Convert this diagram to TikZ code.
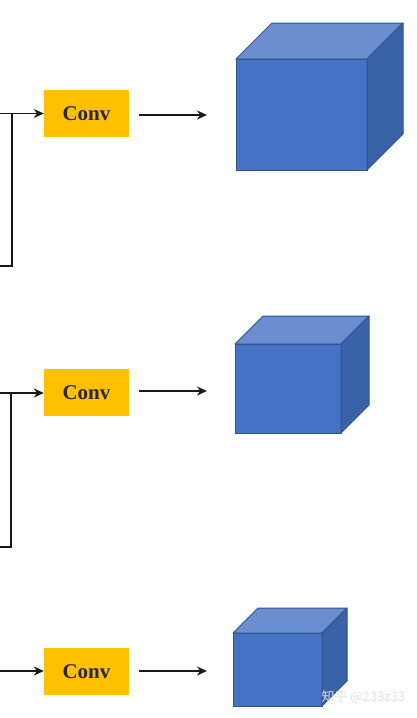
\documentclass[tikz,border=0pt]{standalone}
\usepackage{fontspec}
\setmainfont{Liberation Serif}
\newfontfamily\cjk{Noto Sans CJK SC}
\usetikzlibrary{arrows.meta}
\definecolor{convfill}{HTML}{FFC000}
\definecolor{cubefront}{HTML}{4472C4}
\definecolor{cubetop}{HTML}{6A8ED0}
\definecolor{cubeside}{HTML}{3A62A6}
\definecolor{cubeedge}{HTML}{2F528F}
\newcommand\drawcube[5]{%
  \filldraw[fill=cubefront, draw=cubeedge, line width=1pt] (#1,#2) rectangle ++(#3,#4);
  \filldraw[fill=cubetop, draw=cubeedge, line width=1pt, line join=round] (#1,#2) -- ++(#5,-#5) -- ++(#3,0) -- ++(-#5,#5) -- cycle;
  \filldraw[fill=cubeside, draw=cubeedge, line width=1pt, line join=round] (#1+#3,#2) -- ++(#5,-#5) -- ++(0,#4) -- ++(-#5,#5) -- cycle;
}
\begin{document}
\begin{tikzpicture}[x=1pt,y=-1pt,
  convbox/.style={fill=convfill, minimum width=85pt, minimum height=47pt, inner sep=0pt,
    font=\fontsize{21}{21}\selectfont\bfseries, text=black!85},
  wire/.style={line width=1.8pt, black!90},
  arr/.style={wire, -{Stealth[length=10pt,width=9pt]}},
  wmark/.style={font=\cjk\fontsize{13}{13}\selectfont, text=white!88!black}
]
\useasboundingbox (0,0) rectangle (416,718);

% block 1
\node[convbox] (conv1) at (86.5,113.5) {Conv};
\coordinate (in1) at (0,113.5);
\coordinate (j1) at (12,113.5);
\coordinate (b1) at (0,266);
\coordinate (o1) at (207,115);
\draw[arr] (in1) -- (conv1.west);
\draw[wire] (j1) |- (b1);
\draw[arr] ([xshift=10pt]conv1.east |- o1) -- (o1);
\drawcube{236}{59}{131}{111}{36}

% block 2
\node[convbox] (conv2) at (86.5,392.5) {Conv};
\coordinate (in2) at (0,393);
\coordinate (j2) at (11,393);
\coordinate (b2) at (0,547);
\coordinate (o2) at (207,391);
\draw[arr] (in2) -- (conv2.west |- in2);
\draw[wire] (j2) |- (b2);
\draw[arr] ([xshift=10pt]conv2.east |- o2) -- (o2);
\drawcube{235}{344}{106}{89}{28}

% block 3
\node[convbox] (conv3) at (86.5,671.5) {Conv};
\coordinate (in3) at (0,671);
\coordinate (o3) at (207,671);
\draw[arr] (in3) -- (conv3.west |- in3);
\draw[arr] ([xshift=10pt]conv3.east |- o3) -- (o3);
\drawcube{233}{633}{89}{73}{25}

\node[wmark, anchor=west] (wm) at (318,697) {知乎 @233z33};
\end{tikzpicture}
\end{document}
